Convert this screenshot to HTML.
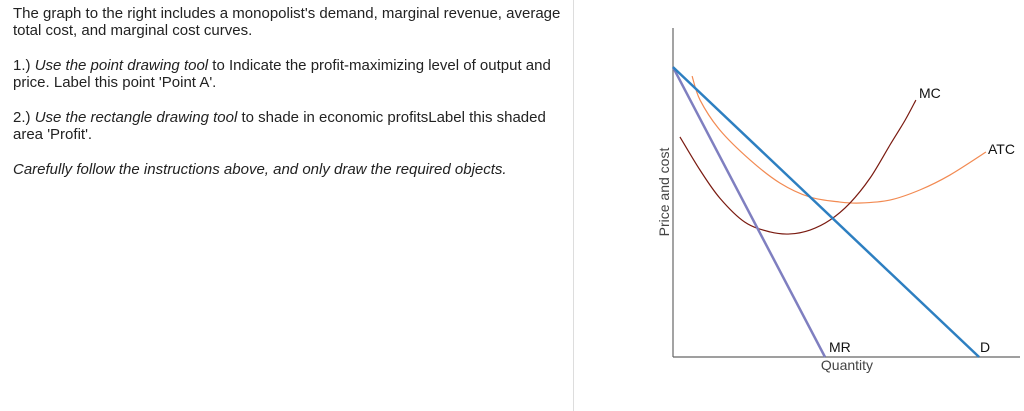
<!DOCTYPE html>
<html><head><meta charset="utf-8"><style>
body{margin:0;width:1024px;height:411px;background:#fff;overflow:hidden;font-family:"Liberation Sans",Arial,sans-serif;position:relative}
#txt{position:absolute;left:13px;top:5px;width:566px;font-size:15px;line-height:17px;color:#222}
#txt p{margin:0 0 18px 0}
#div{position:absolute;left:573px;top:0;width:1px;height:411px;background:#ddd}
svg{position:absolute;left:0;top:0}
</style></head><body>
<div id="txt">
<p>The graph to the right includes a monopolist's demand, marginal revenue, average total cost, and marginal cost curves.</p>
<p>1.) <i>Use the point drawing tool</i> to Indicate the profit-maximizing level of output and price. Label this point 'Point A'.</p>
<p>2.) <i>Use the rectangle drawing tool</i> to shade in economic profitsLabel this shaded area 'Profit'.</p>
<p><i>Carefully follow the instructions above, and only draw the required objects.</i></p>
</div>
<div id="div"></div>
<svg id="chart" width="1024" height="411"></svg>
<script>
const mcQ=[2.0,7.8,13.5,20.7,28.0,33.7,39.5,45.2,51.0,56.8,62.5,66.9,70.0];
const mcP=[66.9,56.8,48.3,41.0,38.0,37.4,38.6,41.6,46.8,54.4,64.4,72.0,78.1];
const atcQ=[5.5,7.8,13.5,22.2,30.8,39.5,48.1,53.9,62.5,71.2,79.8,90.2];
const atcP=[85.4,78.1,69.0,59.9,52.9,48.6,47.1,46.8,47.7,50.8,55.3,62.3];
const demandQ=[0,88.2];
const demandP=[88.1,0];
const mrQ=[0,43.8];
const mrP=[88.1,0];
const X0=673,X1=1020,Y0=357,Y1=28;
const sx=q=>X0+q*(X1-X0)/100, sy=p=>Y0-p*(Y0-Y1)/100;
const NS='http://www.w3.org/2000/svg', svg=document.getElementById('chart');
function mk(t,a){const e=document.createElementNS(NS,t);for(const k in a)e.setAttribute(k,a[k]);svg.appendChild(e);return e;}
function smooth(qs,ps){const pts=qs.map((q,i)=>[sx(q),sy(ps[i])]);let d='M'+pts[0].join(',');
for(let i=0;i<pts.length-1;i++){const p0=pts[i-1]||pts[i],p1=pts[i],p2=pts[i+1],p3=pts[i+2]||p2;
d+=' C'+(p1[0]+(p2[0]-p0[0])/6)+','+(p1[1]+(p2[1]-p0[1])/6)+' '+(p2[0]-(p3[0]-p1[0])/6)+','+(p2[1]-(p3[1]-p1[1])/6)+' '+p2[0]+','+p2[1];}return d;}
let e;
e=mk('line',{x1:X0,y1:Y1,x2:X0,y2:Y0,stroke:'#666','stroke-width':1.2});


e=mk('line',{x1:X0,y1:Y0,x2:X1,y2:Y0,stroke:'#666','stroke-width':1.2});


e=mk('path',{d:smooth(atcQ,atcP),fill:'none',stroke:'#f28a52','stroke-width':1.2});


e=mk('path',{d:smooth(mcQ,mcP),fill:'none',stroke:'#7a1a10','stroke-width':1.2});


e=mk('line',{x1:sx(mrQ[0]),y1:sy(mrP[0]),x2:sx(mrQ[1]),y2:sy(mrP[1]),stroke:'#7f7fc0','stroke-width':2.5});


e=mk('line',{x1:sx(demandQ[0]),y1:sy(demandP[0]),x2:sx(demandQ[1]),y2:sy(demandP[1]),stroke:'#2d7fc1','stroke-width':2.5});


const labels=[['MC',919,98,'mc-label'],['ATC',988,154,'atc-label'],['MR',829,352,'mr-label'],['D',980,352,'d-label']];
labels.forEach(l=>{const t=mk('text',{x:l[1],y:l[2],'font-size':14,fill:'#111'});t.textContent=l[0];

});
e=mk('text',{x:847,y:370,'font-size':14,fill:'#444','text-anchor':'middle'});e.textContent='Quantity';


e=mk('text',{x:0,y:0,'font-size':14,fill:'#444','text-anchor':'middle',transform:'translate(669,192) rotate(-90)'});e.textContent='Price and cost';


</script>
</body></html>
